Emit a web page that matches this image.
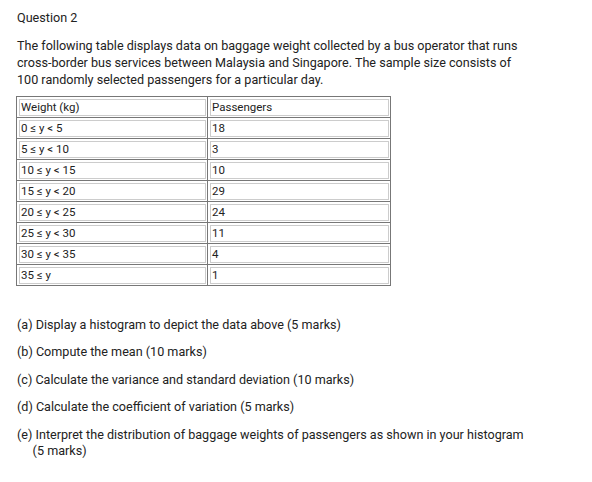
<!DOCTYPE html>
<html>
<head>
<meta charset="utf-8">
<script src="https://cdn.jsdelivr.net/npm/chart.js@4"></script>
<style>
  body { margin: 0; background: #fff; font-family: Roboto, "Noto Sans", sans-serif; color: #222; font-size: 12.6px; }
  #page { position: relative; width: 592px; height: 482px; }
  .t { position: absolute; left: 17px; white-space: nowrap; }
  table { position: absolute; left: 16px; top: 96px; width: 375px; border-collapse: collapse; }
  td { border: 1px solid #777; height: 20px; padding: 0 0 0 4px; font-size: 11.5px; outline: 1px solid #ccc; outline-offset: -3px; }
  td.c1 { width: 186px; }
</style>
</head>
<body>
<div id="page">
  <div class="t" style="top:10px">Question 2</div>
  <div class="t" style="top:37px;line-height:17px">The following table displays data on baggage weight collected by a bus operator that runs<br>cross-border bus services between Malaysia and Singapore. The sample size consists of<br>100 randomly selected passengers for a particular day.</div>
  <table id="tbl"></table>
  <div id="qs"></div>
</div>
<script>
const headers = ['Weight (kg)', 'Passengers'];
const weightClasses = ['0 \u2264 y < 5', '5 \u2264 y < 10', '10 \u2264 y < 15', '15 \u2264 y < 20',
  '20 \u2264 y < 25', '25 \u2264 y < 30', '30 \u2264 y < 35', '35 \u2264 y'];
const passengers = [18, 3, 10, 29, 24, 11, 4, 1];
const questions = [
  '(a) Display a histogram to depict the data above (5 marks)',
  '(b) Compute the mean (10 marks)',
  '(c) Calculate the variance and standard deviation (10 marks)',
  '(d) Calculate the coefficient of variation (5 marks)',
  '(e) Interpret the distribution of baggage weights of passengers as shown in your histogram<br>&nbsp;&nbsp;&nbsp;&nbsp;&nbsp;(5 marks)'
];

const tbl = document.getElementById('tbl');
let html = `<tr><td class="c1">${headers[0]}</td><td>${headers[1]}</td></tr>`;
weightClasses.forEach((w, i) => {
    html += `<tr><td class="c1">${w}</td><td>${passengers[i]}</td></tr>`;
});
tbl.innerHTML = html;

const qs = document.getElementById('qs');
const qTops = [317, 344, 372, 399, 427];
questions.forEach((q, i) => {
    const d = document.createElement('div');
    d.className = 't';
    d.style.top = qTops[i] + 'px';
    d.style.lineHeight = '16px';
    d.innerHTML = q;
    qs.appendChild(d);
});
</script>
</body>
</html>
